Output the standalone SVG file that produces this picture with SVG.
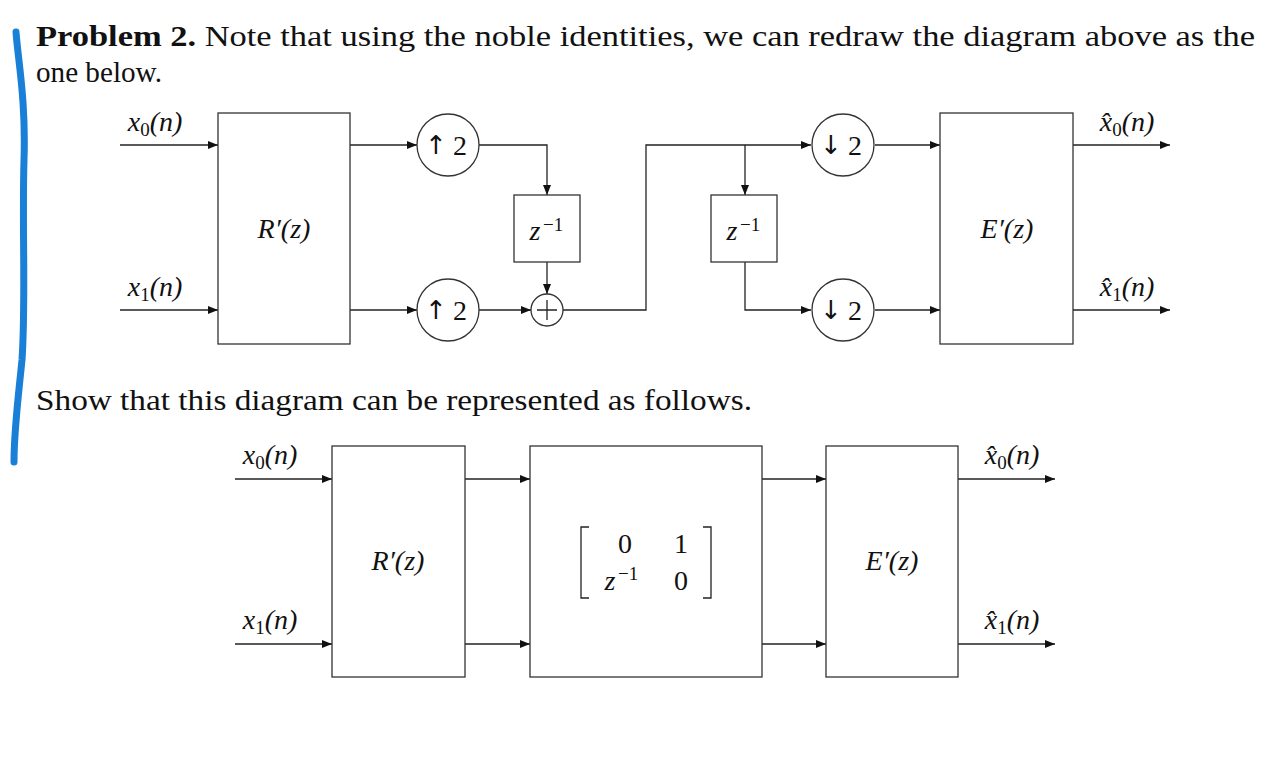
<svg xmlns="http://www.w3.org/2000/svg" width="1280" height="765" viewBox="0 0 1280 765">
<style>
.t{font-family:"Liberation Serif","DejaVu Serif",serif;fill:#111}
.p{font-size:30px}
.m{font-size:28px;font-style:italic}
.n{font-size:28px}
.s{font-size:19px;font-style:normal}
.ar{font-family:"DejaVu Sans",sans-serif;font-size:26px}
.b{fill:#fff;stroke:#333;stroke-width:1.3}
.l{fill:none;stroke:#222;stroke-width:1.3}
.a{marker-end:url(#ar)}
</style>
<defs><marker id="ar" markerWidth="10" markerHeight="8" refX="10" refY="4" orient="auto" markerUnits="userSpaceOnUse"><path d="M0,0L10,4L0,8z" fill="#111"/></marker></defs>
<rect width="1280" height="765" fill="#fff"/>
<path d="M16,32 C18,60 26,100 24,160 C22,230 26,300 22,360 C18,400 14,430 14,462" fill="none" stroke="#1a7fd6" stroke-width="7" stroke-linecap="round"/>
<text class="t p" x="36" y="46" textLength="1219" lengthAdjust="spacingAndGlyphs"><tspan font-weight="bold">Problem 2.</tspan> Note that using the noble identities, we can redraw the diagram above as the</text>
<text class="t p" x="36" y="82" textLength="126" lengthAdjust="spacingAndGlyphs">one below.</text>
<text class="t p" x="36" y="410" textLength="716" lengthAdjust="spacingAndGlyphs">Show that this diagram can be represented as follows.</text>
<g id="connectors">
<path class="l a" d="M120,145H218"/><path class="l a" d="M120,310H218"/>
<path class="l a" d="M350,145H417"/><path class="l a" d="M350,310H417"/>
<path class="l a" d="M479,145H547V195"/><path class="l a" d="M547,262V294"/>
<path class="l a" d="M479,310H531"/>
<path class="l a" d="M563,310H646V145H811"/>
<path class="l a" d="M745,145V195"/><path class="l a" d="M745,262V310H811"/>
<path class="l a" d="M875,145H940"/><path class="l a" d="M875,310H940"/>
<path class="l a" d="M1073,145H1170"/><path class="l a" d="M1073,310H1170"/>
<path class="l a" d="M235,479H332"/><path class="l a" d="M235,644H332"/>
<path class="l a" d="M465,479H530"/><path class="l a" d="M465,644H530"/>
<path class="l a" d="M762,479H826"/><path class="l a" d="M762,644H826"/>
<path class="l a" d="M958,479H1055"/><path class="l a" d="M958,644H1055"/>
</g>
<g id="R1"><rect class="b" x="218" y="113" width="132" height="231"/><text class="t m" x="284" y="238" text-anchor="middle">R′(z)</text></g>
<g id="up0"><circle class="b" cx="448" cy="145" r="31"/><text class="t ar" x="436" y="154" text-anchor="middle">↑</text><text class="t n" x="460" y="155" text-anchor="middle">2</text></g>
<g id="up1"><circle class="b" cx="448" cy="310" r="31"/><text class="t ar" x="436" y="319" text-anchor="middle">↑</text><text class="t n" x="460" y="320" text-anchor="middle">2</text></g>
<g id="z1"><rect class="b" x="514" y="195" width="66" height="67"/><text class="t m" x="535" y="240" text-anchor="middle">z</text><text class="t" x="543" y="231" style="font-size:19px">−1</text></g>
<g id="sum"><circle class="b" cx="547" cy="310" r="16"/><path class="l" d="M537,310H557M547,300V320"/></g>
<g id="z2"><rect class="b" x="711" y="195" width="66" height="67"/><text class="t m" x="732" y="240" text-anchor="middle">z</text><text class="t" x="740" y="231" style="font-size:19px">−1</text></g>
<g id="dn0"><circle class="b" cx="843" cy="145" r="31"/><text class="t ar" x="831" y="154" text-anchor="middle">↓</text><text class="t n" x="855" y="155" text-anchor="middle">2</text></g>
<g id="dn1"><circle class="b" cx="843" cy="310" r="31"/><text class="t ar" x="831" y="319" text-anchor="middle">↓</text><text class="t n" x="855" y="320" text-anchor="middle">2</text></g>
<g id="E1"><rect class="b" x="940" y="113" width="133" height="231"/><text class="t m" x="1007" y="238" text-anchor="middle">E′(z)</text></g>
<g id="lab1">
<text class="t m" x="155" y="131" text-anchor="middle">x<tspan class="s" dy="5">0</tspan><tspan dy="-5">(n)</tspan></text>
<text class="t m" x="155" y="296" text-anchor="middle">x<tspan class="s" dy="5">1</tspan><tspan dy="-5">(n)</tspan></text>
<text class="t m" x="1127" y="131" text-anchor="middle">x̂<tspan class="s" dy="5">0</tspan><tspan dy="-5">(n)</tspan></text>
<text class="t m" x="1127" y="296" text-anchor="middle">x̂<tspan class="s" dy="5">1</tspan><tspan dy="-5">(n)</tspan></text>
</g>
<g id="R2"><rect class="b" x="332" y="446" width="133" height="231"/><text class="t m" x="398" y="570" text-anchor="middle">R′(z)</text></g>
<g id="M"><rect class="b" x="530" y="446" width="232" height="231"/>
<path class="l" d="M589,527H581V598H589M703,527H711V598H703" stroke-width="1.6"/>
<text class="t n" x="625" y="553" text-anchor="middle">0</text><text class="t n" x="681" y="553" text-anchor="middle">1</text>
<text class="t m" x="610" y="590" text-anchor="middle">z</text><text class="t" x="618" y="580" style="font-size:19px">−1</text><text class="t n" x="681" y="590" text-anchor="middle">0</text></g>
<g id="E2"><rect class="b" x="826" y="446" width="132" height="231"/><text class="t m" x="892" y="570" text-anchor="middle">E′(z)</text></g>
<g id="lab2">
<text class="t m" x="270" y="464" text-anchor="middle">x<tspan class="s" dy="5">0</tspan><tspan dy="-5">(n)</tspan></text>
<text class="t m" x="270" y="629" text-anchor="middle">x<tspan class="s" dy="5">1</tspan><tspan dy="-5">(n)</tspan></text>
<text class="t m" x="1012" y="464" text-anchor="middle">x̂<tspan class="s" dy="5">0</tspan><tspan dy="-5">(n)</tspan></text>
<text class="t m" x="1012" y="629" text-anchor="middle">x̂<tspan class="s" dy="5">1</tspan><tspan dy="-5">(n)</tspan></text>
</g>
</svg>
